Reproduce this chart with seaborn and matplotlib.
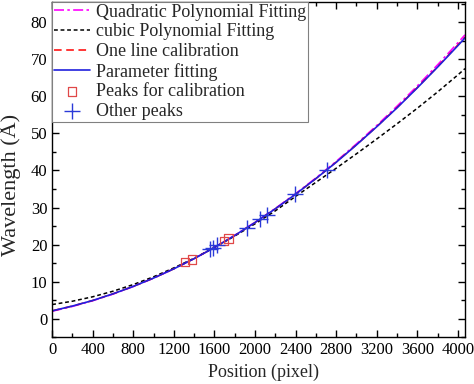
import matplotlib
matplotlib.use("Agg")
import matplotlib.pyplot as plt
import seaborn as sns
import pandas as pd
from matplotlib.ticker import MultipleLocator

sns.set_style("ticks")
plt.rcParams['font.family'] = ['Liberation Serif', 'DejaVu Serif']
plt.rcParams['mathtext.fontset'] = 'stix'

# Curve sample positions (pixel)
pos = [0, 200, 400, 600, 800, 1000, 1200, 1400, 1600, 1800, 2000, 2200,
       2400, 2600, 2800, 3000, 3200, 3400, 3600, 3800, 4000, 4070]
quad = [2.0, 3.3, 4.84, 6.63, 8.66, 10.94, 13.46, 16.22, 19.23, 22.49, 26.0, 29.74,
        33.73, 37.96, 42.44, 47.17, 52.13, 57.35, 62.81, 68.51, 74.46, 76.6]
cubic = [3.8, 4.7, 5.9, 7.4, 9.2, 11.3, 13.7, 16.3, 19.2, 22.3, 25.6, 29.1,
         33.0, 36.8, 40.6, 44.5, 48.5, 52.6, 56.8, 61.2, 65.8, 67.5]
oneline = [2.1, 3.4, 4.9, 6.7, 8.7, 10.95, 13.45, 16.2, 19.2, 22.45, 25.95, 29.65,
           33.6, 37.8, 42.25, 46.95, 51.85, 57.0, 62.4, 68.0, 73.9, 76.0]
param = [2.1, 3.4, 4.9, 6.7, 8.7, 10.95, 13.45, 16.2, 19.2, 22.45, 25.95, 29.65,
         33.6, 37.8, 42.2, 46.9, 51.8, 56.9, 62.3, 67.9, 73.7, 75.8]

calib_x = [1310, 1380, 1695, 1740]
calib_y = [15.3, 16.0, 20.9, 21.7]
other_x = [1557, 1586, 1626, 1921, 2049, 2118, 2394, 2709]
other_y = [18.7, 19.2, 19.8, 24.6, 26.8, 28.1, 33.7, 40.2]

fig = plt.figure(figsize=(4.74, 3.84), dpi=100)
ax = fig.add_axes([0.110, 0.122, 0.871, 0.873])

sns.lineplot(x=pos, y=quad, ax=ax, color='#ff00ff', linestyle=(0, (6, 2, 1.5, 2)),
             linewidth=1.2, label='Quadratic Polynomial Fitting')
sns.lineplot(x=pos, y=cubic, ax=ax, color='black', linestyle=(0, (2.5, 1.8)),
             linewidth=1.1, label='cubic Polynomial Fitting')
sns.lineplot(x=pos, y=oneline, ax=ax, color='#ff0000', linestyle=(0, (5, 3)),
             linewidth=1.1, label='One line calibration')
sns.lineplot(x=pos, y=param, ax=ax, color='#2020dd', linestyle='-',
             linewidth=1.2, label='Parameter fitting')
sns.scatterplot(x=calib_x, y=calib_y, ax=ax, marker='s', s=38, facecolor='none',
                edgecolor='#e04848', linewidth=0.9, label='Peaks for calibration', zorder=5)
sns.scatterplot(x=other_x, y=other_y, ax=ax, marker='+', s=130, color='#2a3ad8',
                linewidth=1.0, label='Other peaks', zorder=6)

ax.set_xlim(0, 4070)
ax.set_ylim(-5, 85.5)
ax.xaxis.set_major_locator(MultipleLocator(400))
ax.xaxis.set_minor_locator(MultipleLocator(200))
ax.yaxis.set_major_locator(MultipleLocator(10))
ax.yaxis.set_minor_locator(MultipleLocator(5))
ax.tick_params(which='both', direction='in', top=True, right=True, labelsize=12,
               width=1.0, colors='black')
ax.tick_params(which='major', length=5)
ax.tick_params(which='minor', length=3)
for sp in ax.spines.values():
    sp.set_visible(True)
    sp.set_linewidth(1.0)
    sp.set_color('black')

ax.set_xlabel('Position (pixel)', fontsize=13)
ax.set_ylabel('Wavelength (Å)', fontsize=16)
ax.xaxis.set_label_coords(0.513, -0.08)
ax.yaxis.set_label_coords(-0.075, 0.455)

leg = ax.legend(loc='upper left', fontsize=13, frameon=True, fancybox=False,
                edgecolor='#808080', framealpha=1, borderaxespad=0,
                handlelength=2.0, handletextpad=0.35, labelspacing=0.15,
                borderpad=0.1, scatterpoints=1)
leg.get_frame().set_linewidth(0.8)

fig.savefig('out.png', dpi=100)
